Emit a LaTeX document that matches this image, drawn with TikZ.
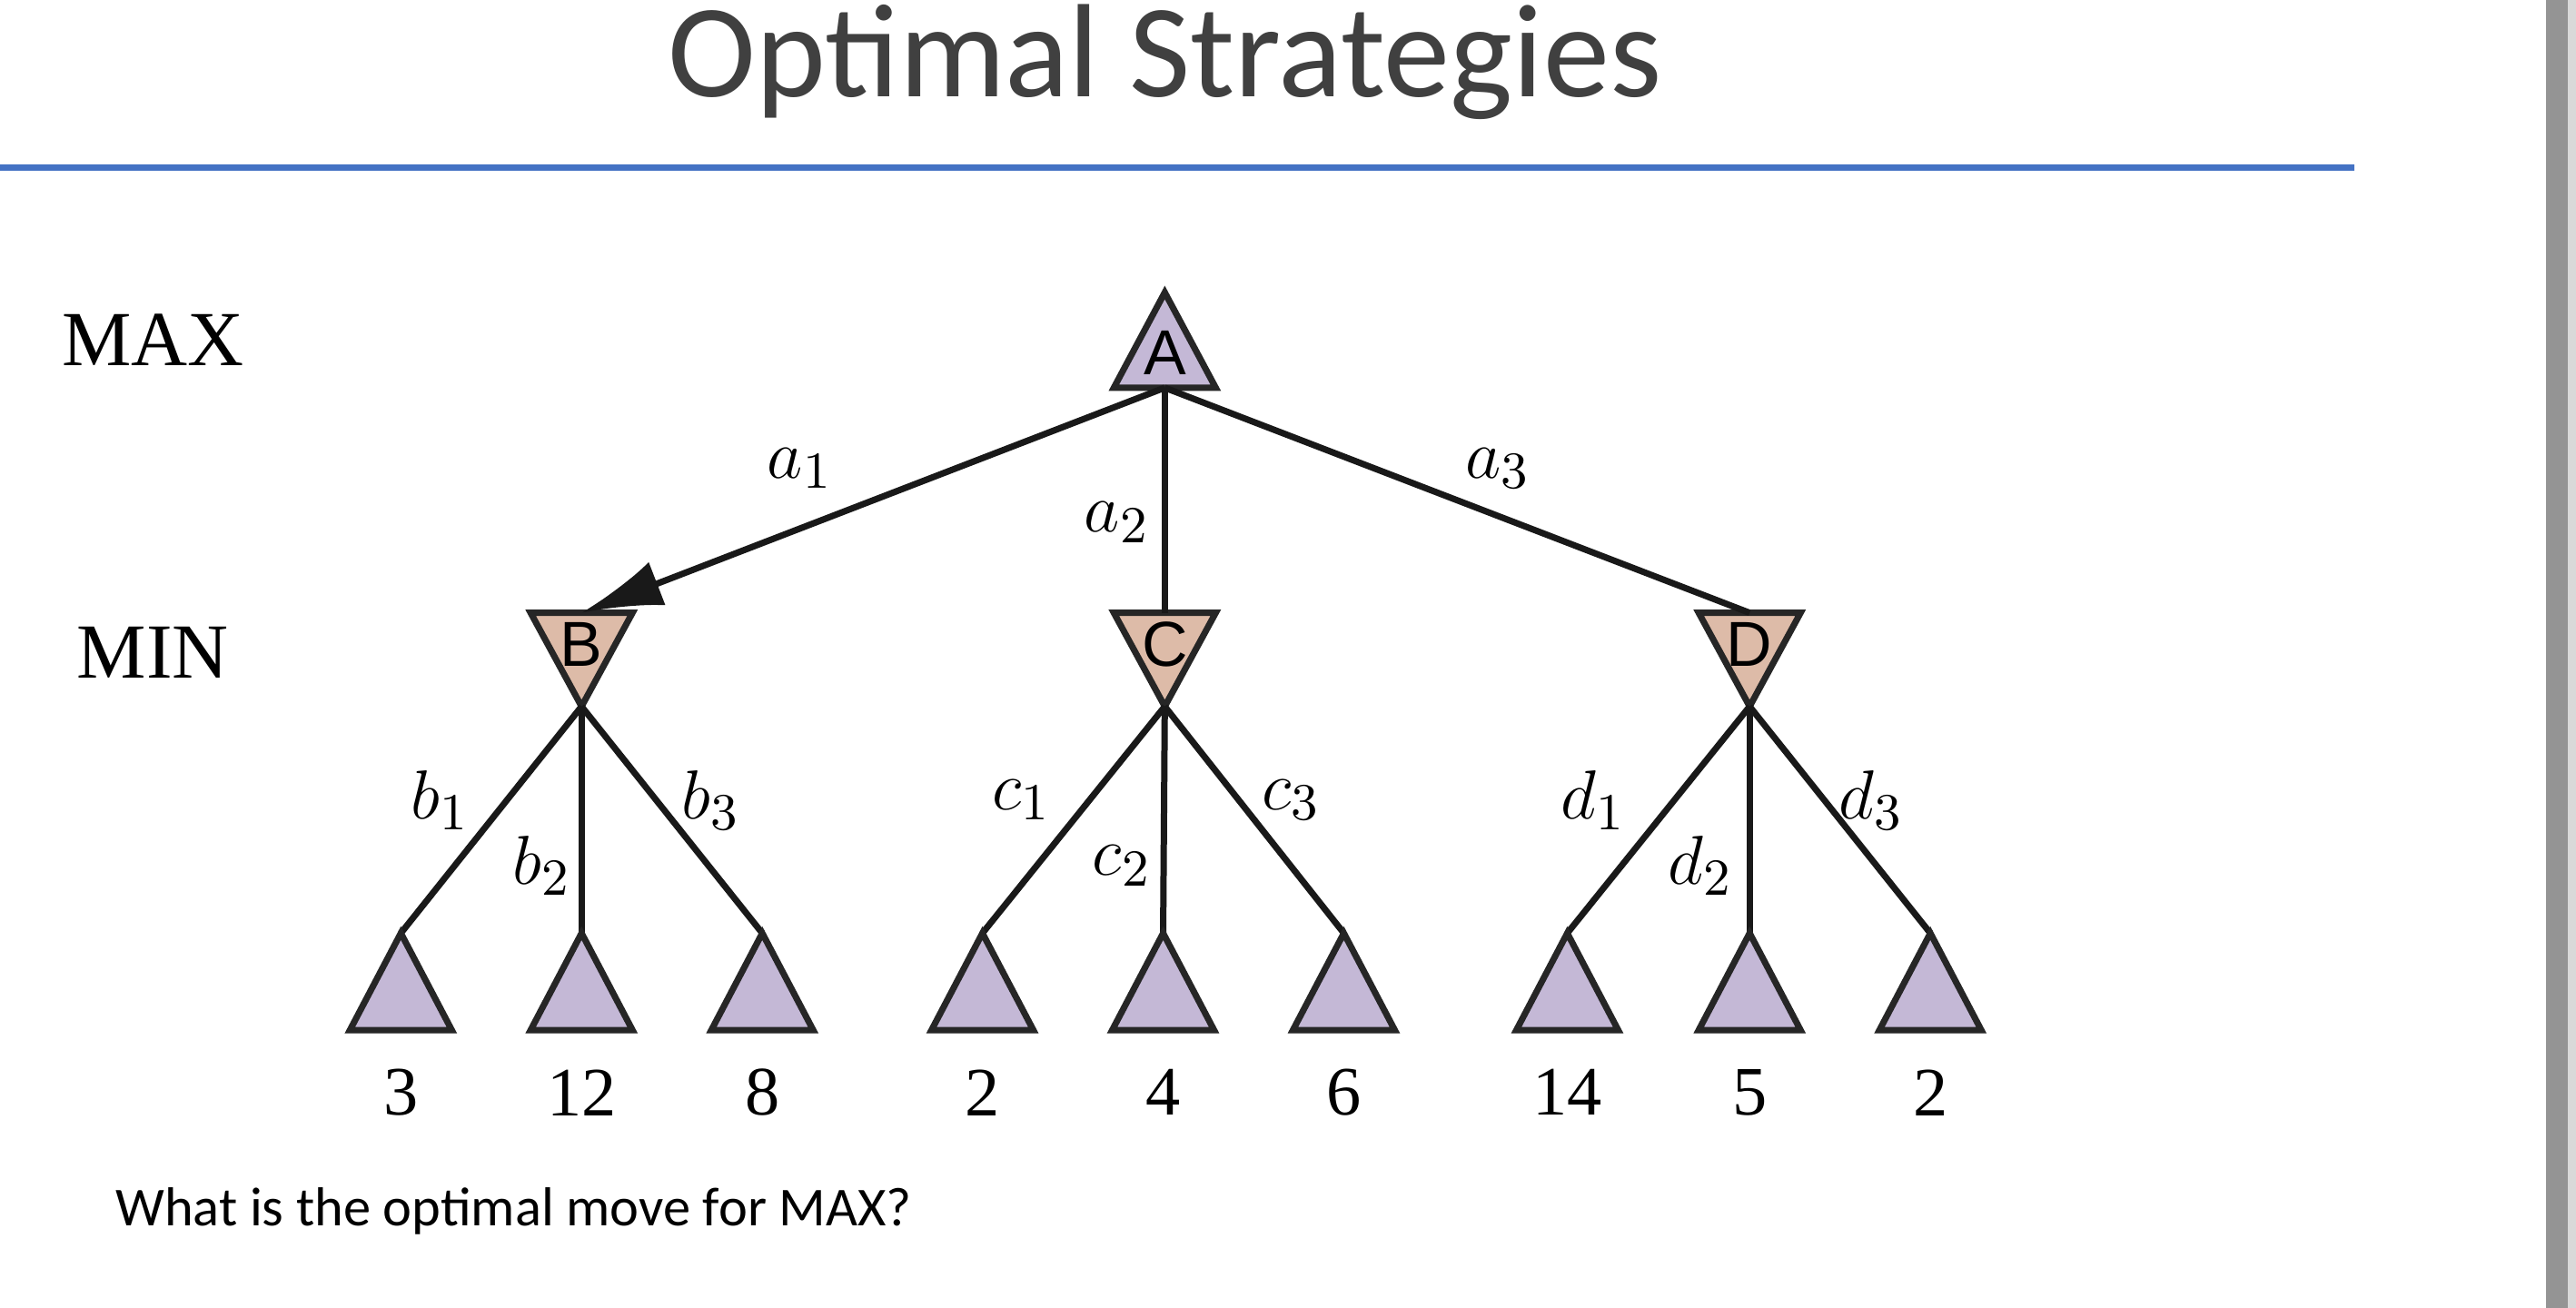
\documentclass[tikz,border=0pt]{standalone}
\usepackage{fontspec}
\usetikzlibrary{arrows.meta}
\setmainfont{Liberation Serif}
\newfontfamily\calfont{Carlito}
\newfontfamily\lettfont{Liberation Sans}
\begin{document}
\begin{tikzpicture}[x=0.01cm,y=-0.01cm,
  maxt/.style={draw=black!85,line width=1.1pt,fill=maxfill},
  mint/.style={draw=black!85,line width=1.1pt,fill=minfill},
  edge/.style={line width=1.1pt,black!90},
  lab/.style={font=\fontsize{13}{13}\selectfont\itshape},
  val/.style={font=\fontsize{12}{12}\selectfont}]
\definecolor{maxfill}{HTML}{C4B8D6}
\definecolor{minfill}{HTML}{DDBBA8}
\definecolor{blueline}{HTML}{4472C4}
\useasboundingbox (0,0) rectangle (1568,796);
\fill[white] (0,0) rectangle (1568,796);
\fill[black!42] (1550,0) rectangle (1563,796);
\fill[black!15] (1563,0) rectangle (1568,796);
\node[font=\calfont\fontsize{23}{23}\selectfont,text=black!75] (title) at (709,38) {Optimal Strategies};
\draw[blueline,line width=1.2pt] (0,102) -- (1433,102);
\node[font=\fontsize{13.5}{13.5}\selectfont] (max) at (93,207) {MAX};
\node[font=\fontsize{13.5}{13.5}\selectfont] (min) at (93,397) {MIN};
% A
\draw[maxt] (709,178) -- (740,236) -- (678,236) -- cycle;
\coordinate (Ab) at (709,236);
\node[font=\lettfont\fontsize{11}{11}\selectfont] (A) at (709,215) {A};
% MIN nodes
\foreach \n/\x in {B/354,C/709,D/1065}{
  \draw[mint] (\x-31,373) -- (\x+31,373) -- (\x,430) -- cycle;
  \coordinate (\n t) at (\x,373);
  \coordinate (\n b) at (\x,430);
  \node[font=\lettfont\fontsize{11}{11}\selectfont] (\n) at (\x,392) {\n};
}
\draw[edge,-{Latex[length=14pt,width=8pt]}] (Ab) -- (Bt);
\draw[edge] (Ab) -- (Ct);
\draw[edge] (Ab) -- (Dt);
\node[lab] (la1) at (487,285) {$a_1$};
\node[lab] (la2) at (680,318) {$a_2$};
\node[lab] (la3) at (912,285) {$a_3$};
% leaves
\foreach \p/\n/\x/\v in {B/b1/244/3,B/b2/354/12,B/b3/464/8,C/c1/598/2,C/c2/708/4,C/c3/818/6,D/d1/954/14,D/d2/1065/5,D/d3/1175/2}{
  \draw[edge] (\p b) -- (\x,568);
  \draw[maxt] (\x,568) -- (\x+31,627) -- (\x-31,627) -- cycle;
  \node[val] (v\n) at (\x,665) {\v};
}
\foreach \l/\x/\y in {b/268/487,c/622/487,d/970/487}{\node[lab] at (\x,\y) {$\l_1$};}
\foreach \l/\x/\y in {b/330/527,c/683/527,d/1035/527}{\node[lab] at (\x,\y) {$\l_2$};}
\foreach \l/\x/\y in {b/433/487,c/786/487,d/1139/487}{\node[lab] at (\x,\y) {$\l_3$};}
\node[font=\calfont\fontsize{9.5}{9.5}\selectfont,anchor=west] (q) at (58,737) {What is the optimal move for MAX?};
\end{tikzpicture}
\end{document}
